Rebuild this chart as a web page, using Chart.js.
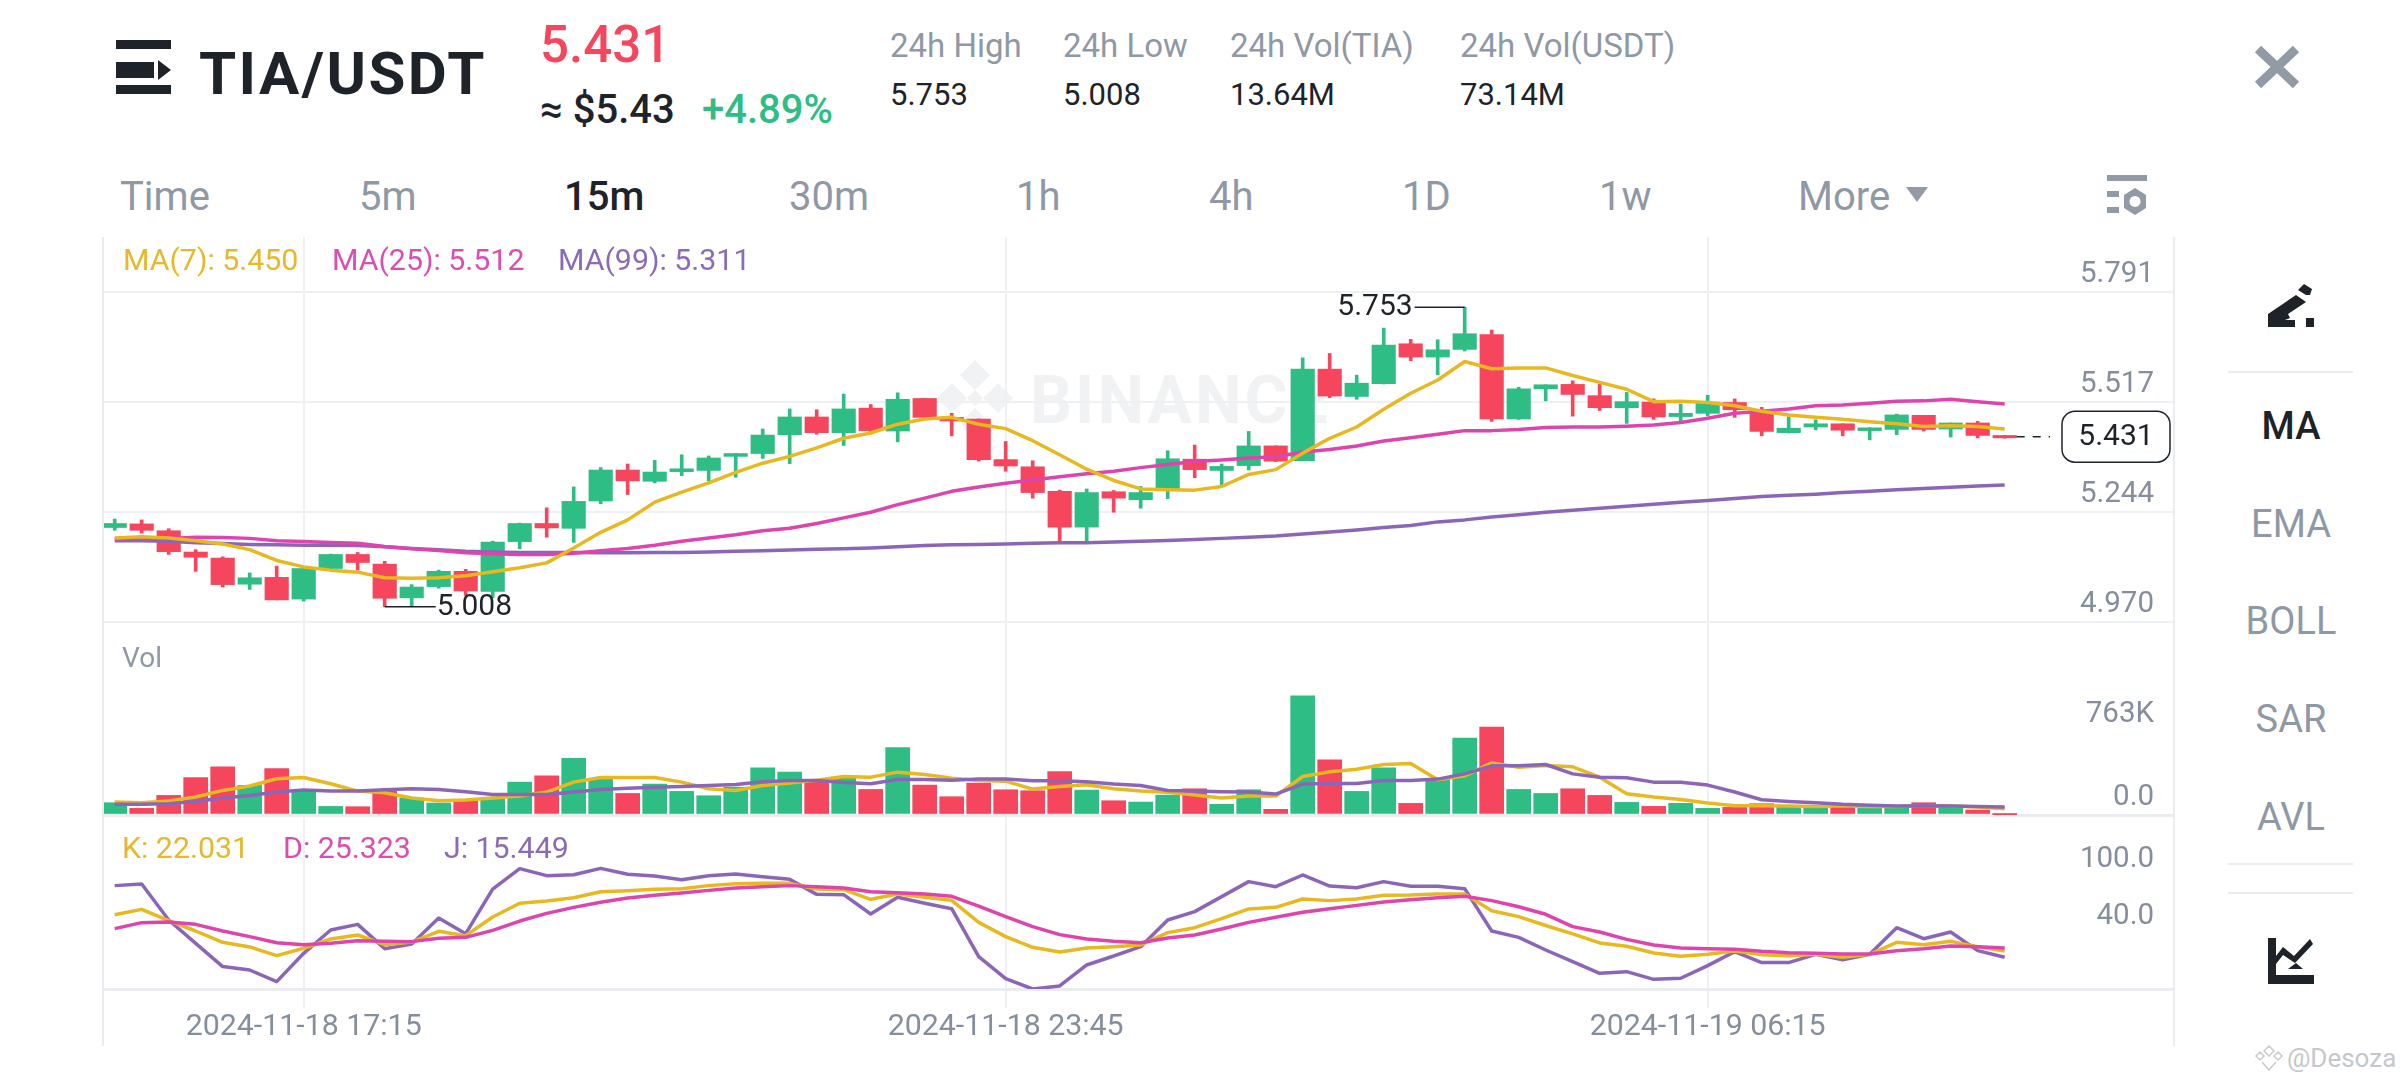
<!DOCTYPE html>
<html>
<head>
<meta charset="utf-8">
<title>TIA/USDT</title>
<script src="https://cdn.jsdelivr.net/npm/chart.js@4"></script>
<style>
html, body { margin: 0; padding: 0; background: #fff; }
body { position: relative; width: 2400px; height: 1080px; overflow: hidden; font-family: Roboto, sans-serif; color: #1E2329; }
.t { position: absolute; white-space: nowrap; transform: translateY(-50%); line-height: 1; }
.g { color: #8F98A5; }
.stat { font-size: 33px; }
.val { font-size: 31px; }
.tab { font-size: 40px; }
.side { font-size: 38px; transform: translate(-50%, -50%); }
.leg { font-size: 30.3px; }
.yel { color: #E6B82A; } .pnk { color: #DB4DB1; } .pur { color: #8B6BB8; }
.rule { position: absolute; left: 2228px; width: 125px; height: 2px; background: #EAECEF; }
svg { position: absolute; }
#plot { position: absolute; left: 102px; top: 237px; width: 2069px; height: 809px; border-left: 2px solid #EAECEF; border-right: 2px solid #EAECEF; }
#plot canvas { position: absolute; left: 0; top: 0; }
#mark { position: absolute; left: 1030px; top: 401px; transform: translateY(-50%); font-size: 66px; font-weight: 700; letter-spacing: 3px; color: #F1F2F3; line-height: 1; }
</style>
</head>
<body>
<!-- header -->
<svg style="left:116px;top:40px" width="56" height="54" viewBox="0 0 56 54" fill="#1E2329"><rect width="55" height="9"/><rect y="22" width="38" height="16"/><polygon points="42,20 55,30 42,40"/><rect y="45" width="55" height="9"/></svg>
<span class="t" style="left:199px;top:74px;font-size:60px;font-weight:700;letter-spacing:2.4px">TIA/USDT</span>
<span class="t" style="left:540px;top:44px;font-size:51px;font-weight:500;color:#F6465D">5.431</span>
<span class="t" style="left:540px;top:110px;font-size:40px;font-weight:500">≈ $5.43</span>
<span class="t" style="left:702px;top:110px;font-size:40px;font-weight:500;color:#2EBD85">+4.89%</span>
<span class="t g stat" style="left:890px;top:45px">24h High</span>
<span class="t val" style="left:890px;top:94px">5.753</span>
<span class="t g stat" style="left:1063px;top:45px">24h Low</span>
<span class="t val" style="left:1063px;top:94px">5.008</span>
<span class="t g stat" style="left:1230px;top:45px">24h Vol(TIA)</span>
<span class="t val" style="left:1230px;top:94px">13.64M</span>
<span class="t g stat" style="left:1460px;top:45px">24h Vol(USDT)</span>
<span class="t val" style="left:1460px;top:94px">73.14M</span>
<svg style="left:2254px;top:45px" width="46" height="44" viewBox="0 0 46 44"><path d="M4 4 L42 40 M42 4 L4 40" stroke="#929AA5" stroke-width="9"/></svg>

<!-- interval tabs -->
<span class="t g tab" style="left:120px;top:197px">Time</span>
<span class="t g tab" style="left:359px;top:197px">5m</span>
<span class="t tab" style="left:564px;top:197px;font-weight:500">15m</span>
<span class="t g tab" style="left:789px;top:197px">30m</span>
<span class="t g tab" style="left:1016px;top:197px">1h</span>
<span class="t g tab" style="left:1209px;top:197px">4h</span>
<span class="t g tab" style="left:1402px;top:197px">1D</span>
<span class="t g tab" style="left:1599px;top:197px">1w</span>
<span class="t g tab" style="left:1798px;top:197px">More</span>
<svg style="left:1906px;top:187px" width="22" height="15" viewBox="0 0 22 15"><polygon points="0,0 22,0 11,15" fill="#929AA5"/></svg>
<svg style="left:2107px;top:175px" width="41" height="41" viewBox="0 0 41 41" fill="#929AA5"><rect width="40" height="6"/><rect y="16" width="12" height="6"/><rect y="32" width="12" height="6"/><path fill-rule="evenodd" d="M28 13 L39 20 L39 33 L28 40 L17 33 L17 20 Z M28 21 a5.5 5.5 0 1 0 0.01 0 Z"/></svg>

<!-- indicator side panel -->
<svg style="left:2268px;top:284px" width="47" height="44" viewBox="0 0 47 44" fill="#1E2329"><polygon points="0,30 28,11 38,18 20,30 22,34 0,43"/><polygon points="0,32 0,43 27,43 27,36 12,36"/><polygon points="30,6 36,0 44,5 42,11 38,11"/><rect x="38" y="34" width="8" height="9"/></svg>
<div class="rule" style="top:371px"></div>
<span class="t side" style="left:2291px;top:426px;font-weight:500">MA</span>
<span class="t side g" style="left:2291px;top:524px">EMA</span>
<span class="t side g" style="left:2291px;top:621px">BOLL</span>
<span class="t side g" style="left:2291px;top:719px">SAR</span>
<span class="t side g" style="left:2291px;top:817px">AVL</span>
<div class="rule" style="top:863px"></div>
<div class="rule" style="top:892px"></div>
<svg style="left:2268px;top:938px" width="47" height="47" viewBox="0 0 47 47" fill="#1E2329"><polygon points="0,0 8,0 8,37 46,37 46,46 0,46"/><polygon points="8,18 15,9 26,18 42,1 45,6 27,25 15,17 8,26"/><polygon points="20,31 28,25 35,31"/></svg>

<!-- plot watermark sits under the transparent canvas -->
<svg style="left:936px;top:360px" width="78" height="78" viewBox="0 0 78 78" fill="#F1F2F3"><path d="M39 0 L54 15 L39 30 L24 15 Z M16 23 L31 38 L16 53 L1 38 Z M62 23 L77 38 L62 53 L47 38 Z M39 30 L47 38 L39 46 L31 38 Z M39 48 L54 63 L39 78 L24 63 Z"/></svg>
<div id="mark">BINANCE</div>

<div id="plot"><canvas id="chart" width="2069" height="809"></canvas></div>

<!-- pane legends -->
<span class="t leg yel" style="left:123px;top:260px">MA(7): 5.450</span>
<span class="t leg pnk" style="left:332px;top:260px">MA(25): 5.512</span>
<span class="t leg pur" style="left:558px;top:260px">MA(99): 5.311</span>
<span class="t g" style="left:122px;top:658px;font-size:28px">Vol</span>
<span class="t leg yel" style="left:122px;top:848px">K: 22.031</span>
<span class="t leg pnk" style="left:283px;top:848px">D: 25.323</span>
<span class="t leg pur" style="left:444px;top:848px">J: 15.449</span>

<svg style="left:2254px;top:1044px" width="30" height="28" viewBox="0 0 30 28" fill="none" stroke="#C9CCD0" stroke-width="1.5"><path d="M15 2 L20 7 L15 12 L10 7 Z M6 8 L10 12 L6 16 L2 12 Z M24 8 L28 12 L24 16 L20 12 Z M8 18 L15 26 L22 18"/></svg>
<span class="t" style="left:2287px;top:1058px;font-size:26px;color:#C4C7CC">@Desoza</span>

<script>
// 15m candles, one entry per candle, oldest first
const opens = [
    5.205, 5.214, 5.197, 5.144, 5.129, 5.064, 5.081, 5.027, 5.103, 5.138,
    5.114, 5.030, 5.058, 5.096, 5.046, 5.170, 5.215, 5.203, 5.271, 5.348,
    5.320, 5.344, 5.347, 5.382, 5.389, 5.436, 5.480, 5.441, 5.502, 5.445,
    5.526, 5.479, 5.475, 5.374, 5.356, 5.295, 5.206, 5.294, 5.274, 5.302,
    5.375, 5.347, 5.359, 5.408, 5.371, 5.599, 5.531, 5.563, 5.662, 5.629,
    5.648, 5.685, 5.475, 5.550, 5.561, 5.533, 5.503, 5.517, 5.481, 5.489,
    5.516, 5.493, 5.441, 5.455, 5.463, 5.446, 5.449, 5.484, 5.450, 5.465, 5.434
];
const highs = [
    5.226, 5.224, 5.202, 5.150, 5.132, 5.092, 5.109, 5.104, 5.139, 5.143,
    5.121, 5.063, 5.099, 5.101, 5.171, 5.216, 5.254, 5.306, 5.354, 5.363,
    5.372, 5.386, 5.383, 5.389, 5.450, 5.500, 5.498, 5.537, 5.511, 5.540,
    5.526, 5.489, 5.475, 5.419, 5.371, 5.298, 5.301, 5.297, 5.307, 5.396,
    5.410, 5.363, 5.444, 5.408, 5.627, 5.638, 5.584, 5.701, 5.673, 5.672,
    5.753, 5.696, 5.554, 5.560, 5.570, 5.561, 5.541, 5.525, 5.512, 5.534,
    5.525, 5.504, 5.480, 5.473, 5.463, 5.453, 5.487, 5.484, 5.465, 5.469, 5.434
];
const lows = [
    5.198, 5.191, 5.138, 5.096, 5.057, 5.051, 5.025, 5.022, 5.100, 5.099,
    5.008, 5.008, 5.054, 5.036, 5.030, 5.152, 5.181, 5.168, 5.264, 5.287,
    5.316, 5.334, 5.321, 5.330, 5.377, 5.364, 5.437, 5.409, 5.444, 5.418,
    5.477, 5.433, 5.370, 5.345, 5.278, 5.170, 5.170, 5.243, 5.253, 5.277,
    5.329, 5.309, 5.348, 5.369, 5.371, 5.528, 5.524, 5.562, 5.620, 5.585,
    5.644, 5.469, 5.474, 5.520, 5.482, 5.496, 5.464, 5.474, 5.470, 5.483,
    5.479, 5.433, 5.440, 5.448, 5.433, 5.423, 5.436, 5.445, 5.430, 5.428, 5.427
];
const closes = [
    5.215, 5.198, 5.145, 5.131, 5.063, 5.080, 5.025, 5.103, 5.138, 5.118,
    5.029, 5.057, 5.096, 5.047, 5.169, 5.215, 5.204, 5.270, 5.348, 5.321,
    5.343, 5.351, 5.378, 5.389, 5.435, 5.480, 5.441, 5.500, 5.446, 5.524,
    5.479, 5.470, 5.374, 5.358, 5.292, 5.206, 5.292, 5.278, 5.292, 5.376,
    5.349, 5.357, 5.408, 5.370, 5.599, 5.532, 5.564, 5.659, 5.629, 5.647,
    5.687, 5.475, 5.550, 5.560, 5.536, 5.503, 5.518, 5.480, 5.489, 5.517,
    5.498, 5.444, 5.452, 5.463, 5.447, 5.453, 5.485, 5.449, 5.465, 5.434, 5.428
];
const ma7 = [
    5.179, 5.182, 5.179, 5.172, 5.164, 5.150, 5.123, 5.107, 5.099, 5.094,
    5.080, 5.079, 5.080, 5.085, 5.095, 5.105, 5.117, 5.154, 5.193, 5.224,
    5.268, 5.293, 5.316, 5.342, 5.365, 5.382, 5.403, 5.427, 5.440, 5.462,
    5.475, 5.479, 5.462, 5.451, 5.421, 5.386, 5.350, 5.322, 5.301, 5.299,
    5.298, 5.307, 5.337, 5.349, 5.390, 5.427, 5.455, 5.499, 5.539, 5.572,
    5.618, 5.600, 5.602, 5.602, 5.583, 5.566, 5.549, 5.518, 5.519, 5.516,
    5.508, 5.494, 5.485, 5.479, 5.474, 5.468, 5.463, 5.456, 5.458, 5.456, 5.450
];
const ma25 = [
    5.177, 5.178, 5.178, 5.181, 5.180, 5.178, 5.172, 5.170, 5.168, 5.166,
    5.158, 5.152, 5.148, 5.142, 5.140, 5.138, 5.138, 5.141, 5.147, 5.153,
    5.161, 5.171, 5.179, 5.187, 5.197, 5.203, 5.215, 5.229, 5.243, 5.262,
    5.278, 5.295, 5.306, 5.315, 5.323, 5.331, 5.339, 5.345, 5.354, 5.362,
    5.369, 5.373, 5.378, 5.381, 5.393, 5.399, 5.408, 5.420, 5.428, 5.437,
    5.446, 5.446, 5.449, 5.454, 5.455, 5.455, 5.457, 5.460, 5.466, 5.477,
    5.489, 5.494, 5.500, 5.508, 5.510, 5.514, 5.519, 5.520, 5.524, 5.518, 5.512
];
const ma99 = [
    5.172, 5.172, 5.171, 5.167, 5.165, 5.163, 5.162, 5.161, 5.161, 5.160,
    5.157, 5.153, 5.150, 5.146, 5.144, 5.143, 5.143, 5.143, 5.142, 5.142,
    5.143, 5.143, 5.144, 5.146, 5.147, 5.149, 5.151, 5.152, 5.154, 5.157,
    5.160, 5.162, 5.163, 5.164, 5.166, 5.167, 5.167, 5.169, 5.171, 5.173,
    5.175, 5.178, 5.181, 5.184, 5.189, 5.194, 5.199, 5.205, 5.210, 5.219,
    5.224, 5.231, 5.237, 5.243, 5.248, 5.253, 5.258, 5.263, 5.268, 5.272,
    5.277, 5.282, 5.285, 5.288, 5.292, 5.295, 5.299, 5.302, 5.305, 5.308, 5.311
];

// volume in thousands
const volumes = [
    113, 61, 180, 345, 443, 272, 427, 226, 79, 76,
    220, 156, 110, 128, 153, 302, 360, 522, 327, 198,
    284, 217, 177, 256, 433, 394, 302, 339, 235, 620,
    275, 168, 293, 232, 223, 400, 229, 131, 119, 183,
    241, 98, 232, 52, 1096, 507, 217, 433, 107, 333,
    708, 809, 235, 198, 241, 180, 116, 79, 107, 61,
    70, 104, 73, 70, 73, 61, 70, 113, 70, 46, 3
];
const volMaShort = [
    119, 113, 128, 165, 226, 266, 333, 345, 287, 220,
    204, 156, 131, 137, 156, 174, 211, 302, 345, 345,
    345, 302, 241, 226, 272, 293, 320, 354, 348, 394,
    372, 339, 317, 311, 238, 262, 278, 241, 220, 208,
    183, 156, 174, 174, 354, 397, 421, 464, 473, 324,
    360, 479, 439, 455, 443, 348, 195, 165, 143, 110,
    85, 85, 82, 79, 85, 79, 79, 85, 82, 73, 58
];
const volMaLong = [
    98, 98, 104, 125, 156, 180, 211, 229, 220, 220,
    232, 241, 235, 214, 189, 189, 189, 211, 235, 247,
    256, 262, 272, 281, 305, 317, 317, 299, 287, 327,
    327, 320, 330, 330, 314, 314, 305, 284, 272, 226,
    220, 214, 211, 192, 284, 290, 290, 317, 317, 330,
    378, 452, 452, 464, 378, 348, 342, 302, 302, 275,
    211, 140, 125, 113, 98, 89, 82, 85, 82, 79, 73
];

const kdjK = [
    60.3, 65.9, 54.0, 43.1, 31.2, 26.3, 17.1, 24.9, 34.7, 38.9,
    28.7, 31.5, 42.8, 38.2, 57.9, 72.3, 74.7, 78.2, 84.5, 85.6,
    87.0, 87.7, 90.9, 93.0, 93.3, 93.3, 87.3, 86.6, 76.5, 82.1,
    78.6, 75.4, 52.2, 37.2, 25.9, 21.0, 25.2, 26.6, 28.4, 41.4,
    46.6, 56.1, 66.3, 68.0, 76.8, 75.1, 76.8, 80.7, 81.0, 82.1,
    82.1, 64.5, 58.2, 48.9, 40.0, 30.5, 27.0, 20.0, 16.4, 18.5,
    22.1, 18.2, 17.1, 18.5, 15.4, 18.5, 31.2, 28.7, 32.2, 26.6, 22.0
];
const kdjD = [
    45.6, 51.9, 52.6, 50.1, 43.1, 37.2, 30.8, 28.7, 30.1, 32.9,
    32.2, 31.9, 35.4, 36.4, 43.8, 53.6, 61.7, 68.0, 73.3, 77.9,
    80.7, 83.1, 85.9, 88.4, 89.8, 90.9, 89.8, 88.4, 84.5, 83.5,
    82.1, 79.6, 69.4, 58.2, 47.7, 39.3, 34.7, 32.2, 30.8, 35.7,
    38.9, 45.2, 52.2, 57.5, 62.8, 66.6, 70.1, 73.7, 76.1, 78.2,
    79.6, 75.1, 68.7, 60.7, 47.7, 42.1, 34.3, 28.4, 25.2, 24.5,
    23.8, 21.7, 20.3, 19.6, 18.9, 18.9, 22.4, 24.5, 27.3, 26.6, 25.3
];
const kdjJ = [
    90.9, 92.6, 54.7, 30.1, 5.6, 2.0, -10.2, 19.6, 44.2, 50.1,
    24.5, 29.4, 56.8, 40.3, 87.3, 108.8, 101.4, 102.4, 109.1, 102.8,
    101.0, 97.2, 101.4, 103.1, 100.3, 97.5, 81.7, 81.4, 61.0, 78.6,
    72.3, 66.6, 16.1, -7.1, -18.0, -14.8, 7.3, 16.8, 26.6, 54.7,
    63.5, 79.3, 95.1, 89.8, 102.1, 90.5, 88.7, 95.1, 90.2, 90.2,
    87.7, 43.1, 36.4, 23.1, 10.8, -1.5, 0.3, -7.8, -6.7, 6.6,
    21.4, 9.8, 9.8, 18.5, 12.9, 18.5, 46.6, 35.0, 42.1, 22.4, 15.4
];

// tick labels
const timeTicks = [7, 33, 59];
const timeLabels = ['2024-11-18 17:15', '2024-11-18 23:45', '2024-11-19 06:15'];
const priceTicks = [5.791, 5.517, 5.244, 4.970];
const volTicks = [763, 0];
const volTickLabels = ['763K', '0.0'];
const kdjTicks = [100, 40, -18];
const kdjTickLabels = ['100.0', '40.0', ''];

const lastPrice = 5.431;
const highIndex = 50, highPrice = 5.753;
const lowIndex = 10, lowPrice = 5.008;

const GREEN = '#2EBD85', RED = '#F6465D';
const YELLOW = '#E8B820', PINK = '#DE44AE', PURPLE = '#8B66B8';
const GRID = '#EEF0F3', AXIS = '#848E9C';

const candleColors = closes.map((c, i) => c >= opens[i] ? GREEN : RED);
const points = arr => arr.map((y, x) => ({ x, y }));

function bars(yAxisID, data, barThickness, order) {
    return { type: 'bar', yAxisID, data, barThickness, order, grouped: false,
        backgroundColor: candleColors, borderWidth: 0 };
}
function line(yAxisID, values, color, order) {
    return { type: 'line', yAxisID, data: points(values), borderColor: color, borderWidth: 3.5,
        pointRadius: 0, tension: 0, borderJoinStyle: 'round', order };
}
function valueAxis(stackWeight, min, max, ticks, labels, gridColor, gridWidth) {
    return {
        position: 'right', stack: 'panes', stackWeight, min, max,
        border: { display: false },
        grid: { color: gridColor, lineWidth: gridWidth, drawTicks: false },
        afterBuildTicks: s => { s.ticks = ticks.map(value => ({ value })); },
        afterFit: s => { s.width = 0; },
        ticks: {
            mirror: true, padding: -19, labelOffset: -17.5, autoSkip: false,
            color: AXIS, font: { family: 'Roboto', size: 29.5 },
            callback: v => labels ? labels[ticks.indexOf(v)] : v.toFixed(3)
        }
    };
}

// high/low callouts and the last price box
const callouts = {
    id: 'callouts',
    afterDatasetsDraw(chart) {
        const { ctx, scales, chartArea } = chart;
        const px = scales.x, py = scales.yPrice;
        ctx.save();
        ctx.font = '30px Roboto';
        ctx.textBaseline = 'middle';
        ctx.strokeStyle = ctx.fillStyle = '#1E2329';
        ctx.lineWidth = 1.5;

        const hx = px.getPixelForValue(highIndex), hy = py.getPixelForValue(highPrice);
        ctx.beginPath(); ctx.moveTo(hx, hy); ctx.lineTo(hx - 50, hy); ctx.stroke();
        ctx.textAlign = 'right';
        ctx.fillText(highPrice.toFixed(3), hx - 52, hy);

        const lx = px.getPixelForValue(lowIndex), ly = py.getPixelForValue(lowPrice);
        ctx.beginPath(); ctx.moveTo(lx, ly); ctx.lineTo(lx + 51, ly); ctx.stroke();
        ctx.textAlign = 'left';
        ctx.fillText(lowPrice.toFixed(3), lx + 52, ly + 1);

        const cy = py.getPixelForValue(lastPrice);
        const boxW = 108, boxH = 51, boxX = chartArea.right - 3 - boxW;
        ctx.setLineDash([8, 8]);
        ctx.beginPath(); ctx.moveTo(px.getPixelForValue(70) + 12, cy); ctx.lineTo(boxX - 12, cy); ctx.stroke();
        ctx.setLineDash([]);
        ctx.fillStyle = '#fff';
        ctx.beginPath(); ctx.roundRect(boxX, cy - boxH / 2, boxW, boxH, 13); ctx.fill(); ctx.stroke();
        ctx.fillStyle = '#1E2329';
        ctx.textAlign = 'center';
        ctx.fillText(lastPrice.toFixed(3), boxX + boxW / 2, cy + 1);
        ctx.restore();
    }
};

new Chart(document.getElementById('chart'), {
    data: {
        datasets: [
            line('yPrice', ma7, YELLOW, 1),
            line('yPrice', ma25, PINK, 2),
            line('yPrice', ma99, PURPLE, 3),
            bars('yPrice', points(opens).map((p, i) => ({ x: i, y: [opens[i], closes[i]] })), 23.5, 4),
            bars('yPrice', points(lows).map((p, i) => ({ x: i, y: [lows[i], highs[i]] })), 3, 5),
            line('yVol', volMaLong, PURPLE, 1),
            line('yVol', volMaShort, YELLOW, 2),
            bars('yVol', points(volumes), 24, 3),
            line('yKdj', kdjJ, PURPLE, 3),
            line('yKdj', kdjK, YELLOW, 2),
            line('yKdj', kdjD, PINK, 1)
        ]
    },
    options: {
        responsive: false,
        animation: false,
        devicePixelRatio: 1,
        layout: { padding: 0 },
        plugins: { legend: { display: false }, tooltip: { enabled: false } },
        scales: {
            x: {
                type: 'linear', min: -0.396, max: 76.234, offset: false,
                border: { display: false },
                grid: { color: GRID, lineWidth: 2, tickLength: 19, offset: false },
                afterBuildTicks: s => { s.ticks = timeTicks.map(value => ({ value })); },
                afterFit: s => { s.height = 57; },
                ticks: {
                    autoSkip: false, maxRotation: 0, padding: 1,
                    color: AXIS, font: { family: 'Roboto', size: 30.3 },
                    callback: v => timeLabels[timeTicks.indexOf(v)]
                }
            },
            yPrice: valueAxis(385, 4.970, 5.9276, priceTicks, null, GRID, 2),
            yVol: valueAxis(193, 0, 1774, volTicks, volTickLabels,
                c => c.tick.value === 0 ? '#EAECEF' : 'transparent', 3),
            yKdj: valueAxis(174, -18, 165.3, kdjTicks, kdjTickLabels,
                c => c.tick.value === -18 ? '#EAECEF' : 'transparent', 3)
        }
    },
    plugins: [callouts]
});
</script>
</body>
</html>
